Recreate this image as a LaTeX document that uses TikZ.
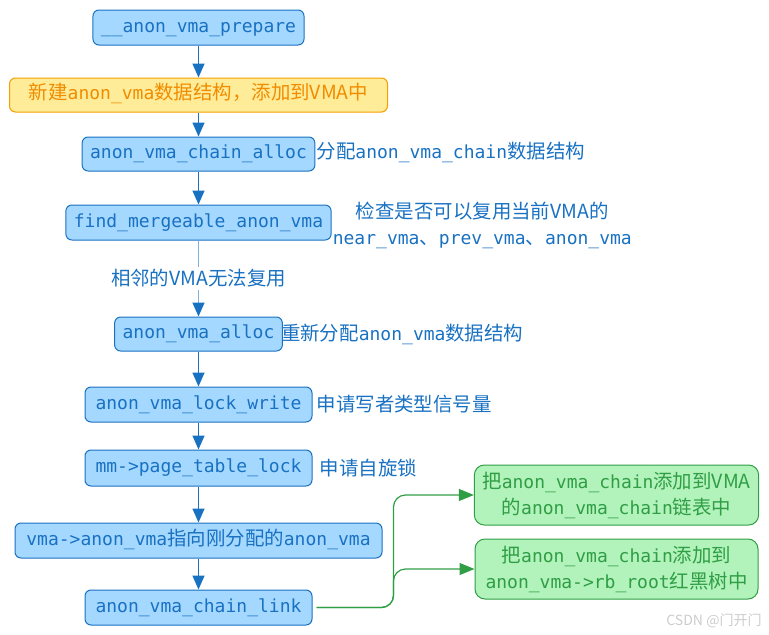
\documentclass[tikz,border=0pt]{standalone}
\usepackage{fontspec}
\setmainfont{DejaVu Sans Mono}
\newfontfamily\cjk[Scale=1.08]{Noto Sans CJK SC}
\newcommand\zh[1]{{\cjk #1}}
\usepackage{tikz}
\usetikzlibrary{arrows.meta,positioning}
\definecolor{bluefill}{HTML}{A5D8FF}
\definecolor{blueline}{HTML}{1971C2}
\definecolor{orangefill}{HTML}{FFEC99}
\definecolor{orangeline}{HTML}{F59F00}
\definecolor{orangetext}{HTML}{F08C00}
\definecolor{greenfill}{HTML}{B2F2BB}
\definecolor{greenline}{HTML}{2F9E44}

\begin{document}
\begin{tikzpicture}[x=1pt,y=-1pt,
  every node/.append style={font=\fontsize{18}{26}\selectfont},
  basebox/.style={rectangle,draw=blueline,fill=bluefill,text=blueline,rounded corners=6pt,line width=1pt,minimum height=35pt,inner xsep=8pt,inner ysep=2pt},
  box/.style={basebox,text height=12pt,text depth=3pt},
  gbox/.style={basebox,draw=greenline,fill=greenfill,text=greenline,rounded corners=10pt,align=center,minimum width=283pt,minimum height=60pt},
  note/.style={text=blueline,inner sep=0pt},
  arr/.style={-{Triangle[length=14pt,width=12pt]},line width=1.6pt,draw=blueline},
  garr/.style={-{Triangle[length=15pt,width=12pt]},line width=1.2pt,draw=greenline}
]
\useasboundingbox (0,0) rectangle (769,635);

% main chain
\node[box] (prep) at (198.5,27.5) {\_\_anon\_vma\_prepare};
\node[box,draw=orangeline,fill=orangefill,text=orangetext,minimum width=378pt,minimum height=34pt,below=32pt of prep] (newav) {\zh{新建}anon\_vma\zh{数据结构，添加到VMA中}};
\node[box,minimum height=34pt,below=24pt of newav] (chainalloc) {anon\_vma\_chain\_alloc};
\node[box,below=33pt of chainalloc] (findmerge) {find\_mergeable\_anon\_vma};
\node[box,minimum height=34pt,below=76pt of findmerge] (avalloc) {anon\_vma\_alloc};
\node[box,minimum width=227pt,below=35pt of avalloc] (lockwrite) {anon\_vma\_lock\_write};
\node[box,minimum width=227pt,minimum height=36pt,below=27pt of lockwrite] (ptlock) {mm->page\_table\_lock};
\node[box,minimum width=367pt,below=36pt of ptlock] (setav) {vma->anon\_vma\zh{指向刚分配的}anon\_vma};
\node[box,minimum width=227pt,below=31pt of setav] (chainlink) {anon\_vma\_chain\_link};

% side notes
\node[note,right=1pt of chainalloc,yshift=2pt] (n1) {\zh{分配}anon\_vma\_chain\zh{数据结构}};
\node[note,align=center,right=1pt of findmerge,yshift=-3pt] (n2) {\zh{检查是否可以复用当前VMA的}\\near\_vma\zh{、}prev\_vma\zh{、}anon\_vma};
\node[note,right=-2pt of avalloc] (n3) {\zh{重新分配}anon\_vma\zh{数据结构}};
\node[note,right=4pt of lockwrite] (n4) {\zh{申请写者类型信号量}};
\node[note,right=7pt of ptlock] (n5) {\zh{申请自旋锁}};

% green results
\node[gbox] (toavc) at (616.5,495) {\zh{把}anon\_vma\_chain\zh{添加到VMA}\\\zh{的}anon\_vma\_chain\zh{链表中}};
\node[gbox,below=13pt of toavc] (torb) {\zh{把}anon\_vma\_chain\zh{添加到}\\anon\_vma->rb\_root\zh{红黑树中}};

\node[text=gray!40,font=\fontsize{13}{13}\selectfont] (mark) at (714,621) {\zh{CSDN @门开门}};

\draw[arr] (prep) -- (newav);
\draw[arr] (newav) -- (chainalloc);
\draw[arr] (chainalloc) -- (findmerge);
\draw[arr,draw=blueline!55,-{Triangle[length=14pt,width=12pt,color=blueline]}] (findmerge) -- node[fill=white,text=blueline,inner sep=2pt] (reuse) {\zh{相邻的VMA无法复用}} (avalloc);
\draw[arr] (avalloc) -- (lockwrite);
\draw[arr] (lockwrite) -- (ptlock);
\draw[arr] (ptlock) -- (setav);
\draw[arr] (setav) -- (chainlink);

\draw[garr,rounded corners=12pt,shorten <=4pt] (chainlink.east) -- ++(81,0) |- (toavc.west);
\draw[garr,rounded corners=12pt,shorten <=4pt] (chainlink.east) -- ++(81,0) |- (torb.west);
\end{tikzpicture}
\end{document}
